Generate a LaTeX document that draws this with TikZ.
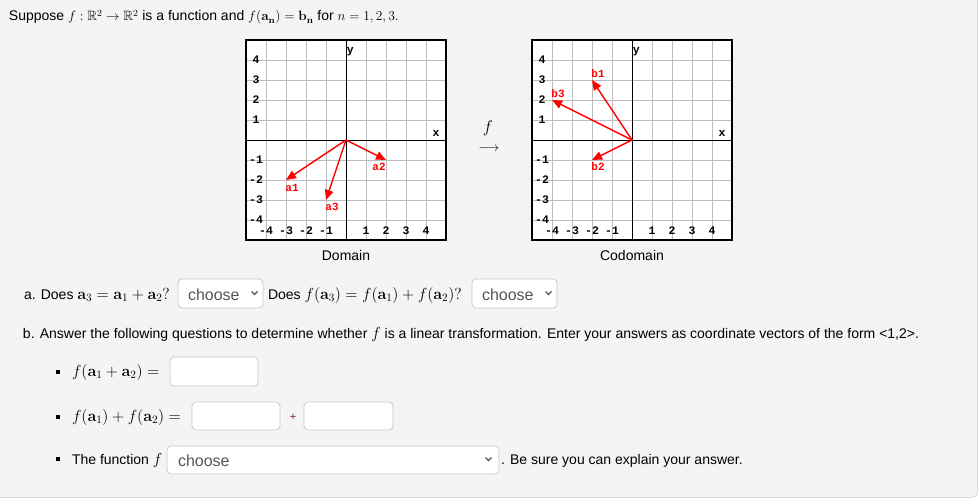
\RequirePackage{fix-cm}
\documentclass[tikz,border=0pt]{standalone}
\usepackage{amssymb}
\usepackage[no-math]{fontspec}
\setmainfont{Liberation Sans}
\newfontfamily\gfont{Liberation Mono}
\usetikzlibrary{arrows.meta}
\definecolor{panelbg}{HTML}{F4F4F4}
\definecolor{panelln}{HTML}{D8D8D8}
\definecolor{boxln}{HTML}{C8C8C8}
\definecolor{gridc}{HTML}{BDBDBD}
\definecolor{ddtext}{HTML}{555555}
\definecolor{vecred}{HTML}{FF0000}
\definecolor{plusred}{HTML}{8B1A1A}
\newcommand{\mth}[1]{{\fontsize{16}{18}\selectfont$#1$}}
\newcommand{\mths}[1]{{\fontsize{13.5}{16}\selectfont$#1$}}
\newcommand{\plotpanel}{%
  \fill[white] (-5,-5) rectangle (5,5);
  \foreach \i in {-4,...,4}{
    \draw[gridline] (\i,-5) -- (\i,5);
    \draw[gridline] (-5,\i) -- (5,\i);
  }
  \draw[axisline] (-5,0) -- (5,0);
  \draw[axisline] (0,-5) -- (0,5);
  \draw[frameline] (-5,-5) rectangle (5,5);
  \foreach \v in {-4,-3,-2,-1,1,2,3,4}{
    \node[ticklab] (yt\v) at (-4.5,\v) {\v};
    \node[ticklab] (xt\v) at (\v,-4.55) {\v};
  }
  \node[ticklab] (ylab) at (0.22,4.42) {y};
  \node[ticklab] (xlab) at (4.5,0.35) {x};
}
\begin{document}
\begin{tikzpicture}[x=1pt,y=-1pt,
  every node/.style={inner sep=0pt, outer sep=0pt},
  txt/.style={anchor=base west, font=\fontsize{14}{16}\selectfont},
  ddbox/.style={draw=boxln, fill=white, rounded corners=4pt, line width=0.8pt},
  ddtxt/.style={anchor=base west, text=ddtext, font=\fontsize{16}{18}\selectfont},
  chev/.style={draw=ddtext, line width=1.1pt},
  gridline/.style={draw=gridc, line width=0.8pt},
  axisline/.style={draw=black, line width=0.9pt},
  frameline/.style={draw=black, line width=1.3pt},
  ticklab/.style={font=\gfont\bfseries\fontsize{11.5}{13}\selectfont},
  vec/.style={draw=vecred, line width=1.4pt, -{Triangle[length=10pt,width=8.5pt]}},
  veclab/.style={text=vecred, font=\gfont\bfseries\fontsize{11}{13}\selectfont},
  bul/.style={fill=black}]
\useasboundingbox (0,0) rectangle (979,500);
\fill[white] (0,0) rectangle (979,500);
\draw[fill=panelbg, draw=panelln, line width=0.8pt, rounded corners=5pt] (-10,-10) rectangle (977.5,497.5);

% top line
\node[txt] (intro) at (9,21) {Suppose \mths{f:\mathbb{R}^2\to\mathbb{R}^2} is a function and \mths{f(\mathbf{a}_{\mathbf{n}})=\mathbf{b}_{\mathbf{n}}} for \mths{n=1,2,3.}};

% domain graph
\begin{scope}[shift={(346,140)}, x=20pt, y=20pt, name prefix=dom-]
  \plotpanel
  \coordinate (O) at (0,0);
  \coordinate (a1) at (-3,-2);
  \coordinate (a2) at (2,-1);
  \coordinate (a3) at (-1,-3);
  \draw[vec] (O) -- (a1);
  \draw[vec] (O) -- (a2);
  \draw[vec] (O) -- (a3);
  \node[veclab] (la1) at (-2.7,-2.38) {a1};
  \node[veclab] (la2) at (1.65,-1.35) {a2};
  \node[veclab] (la3) at (-0.7,-3.35) {a3};
\end{scope}

% codomain graph
\begin{scope}[shift={(632,140)}, x=20pt, y=20pt, name prefix=cod-]
  \plotpanel
  \coordinate (O) at (0,0);
  \coordinate (b1) at (-2,3);
  \coordinate (b2) at (-2,-1);
  \coordinate (b3) at (-4,2);
  \draw[vec] (O) -- (b1);
  \draw[vec] (O) -- (b2);
  \draw[vec] (O) -- (b3);
  \node[veclab] (lb1) at (-1.7,3.32) {b1};
  \node[veclab] (lb2) at (-1.7,-1.35) {b2};
  \node[veclab] (lb3) at (-3.7,2.32) {b3};
\end{scope}

\node[font=\fontsize{17}{19}\selectfont] (fsym) at (488,128) {$f$};
\node[font=\fontsize{13}{15}\selectfont] (farr) at (489,149) {$\longrightarrow$};
\node[font=\fontsize{14}{16}\selectfont] (domlab) at (346,255) {Domain};
\node[font=\fontsize{14}{16}\selectfont] (codlab) at (632,255) {Codomain};

% row a
\node[txt] (qa1) at (24,299) {a. Does \mth{\mathbf{a}_3=\mathbf{a}_1+\mathbf{a}_2?}};
\draw[ddbox] (178,279) rectangle (263,308);
\node[ddtxt] (dd1) at (188,300) {choose};
\draw[chev] (251.5,291.5) -- (254.5,294.5) -- (257.5,291.5);
\node[txt] (qa2) at (268,299) {Does \mth{f(\mathbf{a}_3)=f(\mathbf{a}_1)+f(\mathbf{a}_2)?}};
\draw[ddbox] (472,279) rectangle (557,308);
\node[ddtxt] (dd2) at (482,300) {choose};
\draw[chev] (545.5,291.5) -- (548.5,294.5) -- (551.5,291.5);

% row b
\node[txt] (qb) at (23,338) {b. Answer the following questions to determine whether \mth{f} is a linear transformation. Enter your answers as coordinate vectors of the form <1,2>.};

% bullets
\fill[bul] (56,370) rectangle (60,374);
\node[txt] (r1) at (72,376) {\mth{f(\mathbf{a}_1+\mathbf{a}_2)=}};
\draw[ddbox] (170,357) rectangle (258,386);

\fill[bul] (56,415) rectangle (60,419);
\node[txt] (r2) at (72,421) {\mth{f(\mathbf{a}_1)+f(\mathbf{a}_2)=}};
\draw[ddbox] (192,402) rectangle (280,430);
\node[text=plusred, font=\fontsize{11}{12}\selectfont] (plus) at (293,417) {+};
\draw[ddbox] (304,402) rectangle (393,430);

\fill[bul] (56,457) rectangle (60,461);
\node[txt] (r3) at (72,464) {The function \mth{f}};
\draw[ddbox] (167,446) rectangle (499,474);
\node[ddtxt] (dd3) at (178,466) {choose};
\draw[chev] (485.5,457.5) -- (488.5,460.5) -- (491.5,457.5);
\node[txt] (r3b) at (501,464) {. Be sure you can explain your answer.};
\end{tikzpicture}
\end{document}
